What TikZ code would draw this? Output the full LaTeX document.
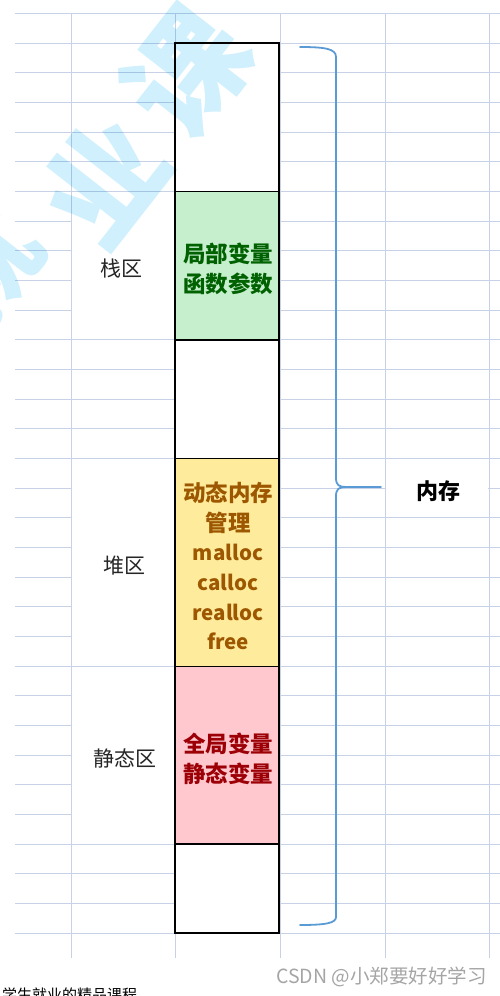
\documentclass[tikz,border=0pt]{standalone}
\usepackage{fontspec}
\setmainfont{Noto Sans CJK SC}
\definecolor{gridc}{RGB}{200,210,230}
\definecolor{bracec}{RGB}{91,155,213}
\definecolor{goodfill}{RGB}{198,239,206}
\definecolor{goodtext}{RGB}{0,97,0}
\definecolor{neutfill}{RGB}{255,235,156}
\definecolor{neuttext}{RGB}{156,87,0}
\definecolor{badfill}{RGB}{255,199,206}
\definecolor{badtext}{RGB}{156,0,6}
\definecolor{wmc}{RGB}{207,240,252}
\definecolor{csdnc}{RGB}{165,165,165}
\tikzset{
  gridline/.style={draw=gridc, line width=1pt},
  eraser/.style={fill=white},
  segbox/.style={draw=black, line width=1.3pt, minimum width=104pt, inner sep=0pt, outer sep=0pt},
  boxtxt/.style={font=\fontsize{22.5}{29.6}\selectfont\bfseries, align=center, inner sep=0pt},
  sidelbl/.style={font=\fontsize{21}{24}\selectfont, text=black!85, inner sep=0pt},
  memlbl/.style={font=\fontsize{22}{24}\selectfont\bfseries, text=black, inner sep=0pt},
  bracestyle/.style={draw=bracec, line width=1.8pt, line cap=round},
  wmstyle/.style={text=wmc, font=\fontsize{118}{118}\selectfont\bfseries, inner sep=0pt, rotate=52},
}
\newcommand{\latinline}[1]{{\fontsize{20.5}{29.6}\selectfont #1}}
\begin{document}
\begin{tikzpicture}[x=1pt,y=-1pt]
\useasboundingbox (0,0) rectangle (500,996);
% horizontal grid lines
\foreach \k in {0,...,31}{
  \draw[gridline] (15,{13.6+29.66*\k}) -- (500,{13.6+29.66*\k});
}
% merged cells (erase interior lines)
\fill[eraser] (71.6,{13.6+29.66*6+0.8}) rectangle (174.4,{13.6+29.66*11-0.8});
\fill[eraser] (71.6,{13.6+29.66*15+0.8}) rectangle (174.4,{13.6+29.66*22-0.8});
\fill[eraser] (71.6,{13.6+29.66*22+0.8}) rectangle (174.4,{13.6+29.66*28-0.8});
\fill[eraser] (385.6,{13.6+29.66*15+0.8}) rectangle (488.4,{13.6+29.66*17-0.8});
% vertical grid lines
\foreach \x in {71,175,280,385,489}{
  \draw[gridline] (\x,13.6) -- (\x,958);
}
% memory segments
\node[segbox, fill=white, minimum height=148.3pt] (s1) at (227,117.45) {};
\node[segbox, fill=goodfill, minimum height=148.3pt] (s2) at (227,265.75) {};
\node[segbox, fill=white, minimum height=118.6pt] (s3) at (227,399.2) {};
\node[segbox, fill=neutfill, minimum height=207.7pt] (s4) at (227,562.35) {};
\node[segbox, fill=badfill, minimum height=177.9pt] (s5) at (227,755.15) {};
\node[segbox, fill=white, minimum height=89pt] (s6) at (227,888.6) {};
% segment texts
\node[boxtxt, text=goodtext] (t2) at (228,269) {局部变量\\函数参数};
\node[boxtxt, text=neuttext] (t4) at (228,566) {动态内存\\管理\\\latinline{malloc}\\\latinline{calloc}\\\latinline{realloc}\\\latinline{free}};
\node[boxtxt, text=badtext] (t5) at (228,759) {全局变量\\静态变量};
% watermark
\begin{scope}[blend mode=multiply]
\node[wmstyle] (wm3) at (187,72) {课};
\node[wmstyle] (wm2) at (103,180) {业};
\node[wmstyle] (wm1) at (-24,266) {就};
\end{scope}
% outer border
\draw[line width=2.2pt] (s1.north west) rectangle (s6.south east);
% brace
\coordinate (btop) at (300,47);
\coordinate (btip) at (381,487);
\coordinate (bbot) at (300,925);
\draw[bracestyle] (btop) .. controls (326,47) and (336,49) .. (336,57) -- (336,478)
  .. controls (336,485) and (339,487) .. (346,487) -- (btip);
\draw[bracestyle] (346,487) .. controls (339,487) and (336,489) .. (336,496) -- (336,917)
  .. controls (336,923) and (326,925) .. (bbot);
% labels
\node[sidelbl] (zhan) at (121,268.5) {栈区};
\node[sidelbl] (dui) at (124,565.5) {堆区};
\node[sidelbl] (jing) at (124.5,758.5) {静态区};
\node[memlbl] (mem) at (438.5,491.5) {内存};
% bottom texts
\node[text=csdnc, font=\fontsize{19.5}{22}\selectfont, inner sep=0pt, anchor=east] (csdn) at (487,977) {CSDN @小郑要好好学习};
\node[text=black, font=\fontsize{15}{18}\selectfont, inner sep=0pt, anchor=base west] (bl) at (2,1000.5) {学生就业的精品课程};
\end{tikzpicture}
\end{document}
